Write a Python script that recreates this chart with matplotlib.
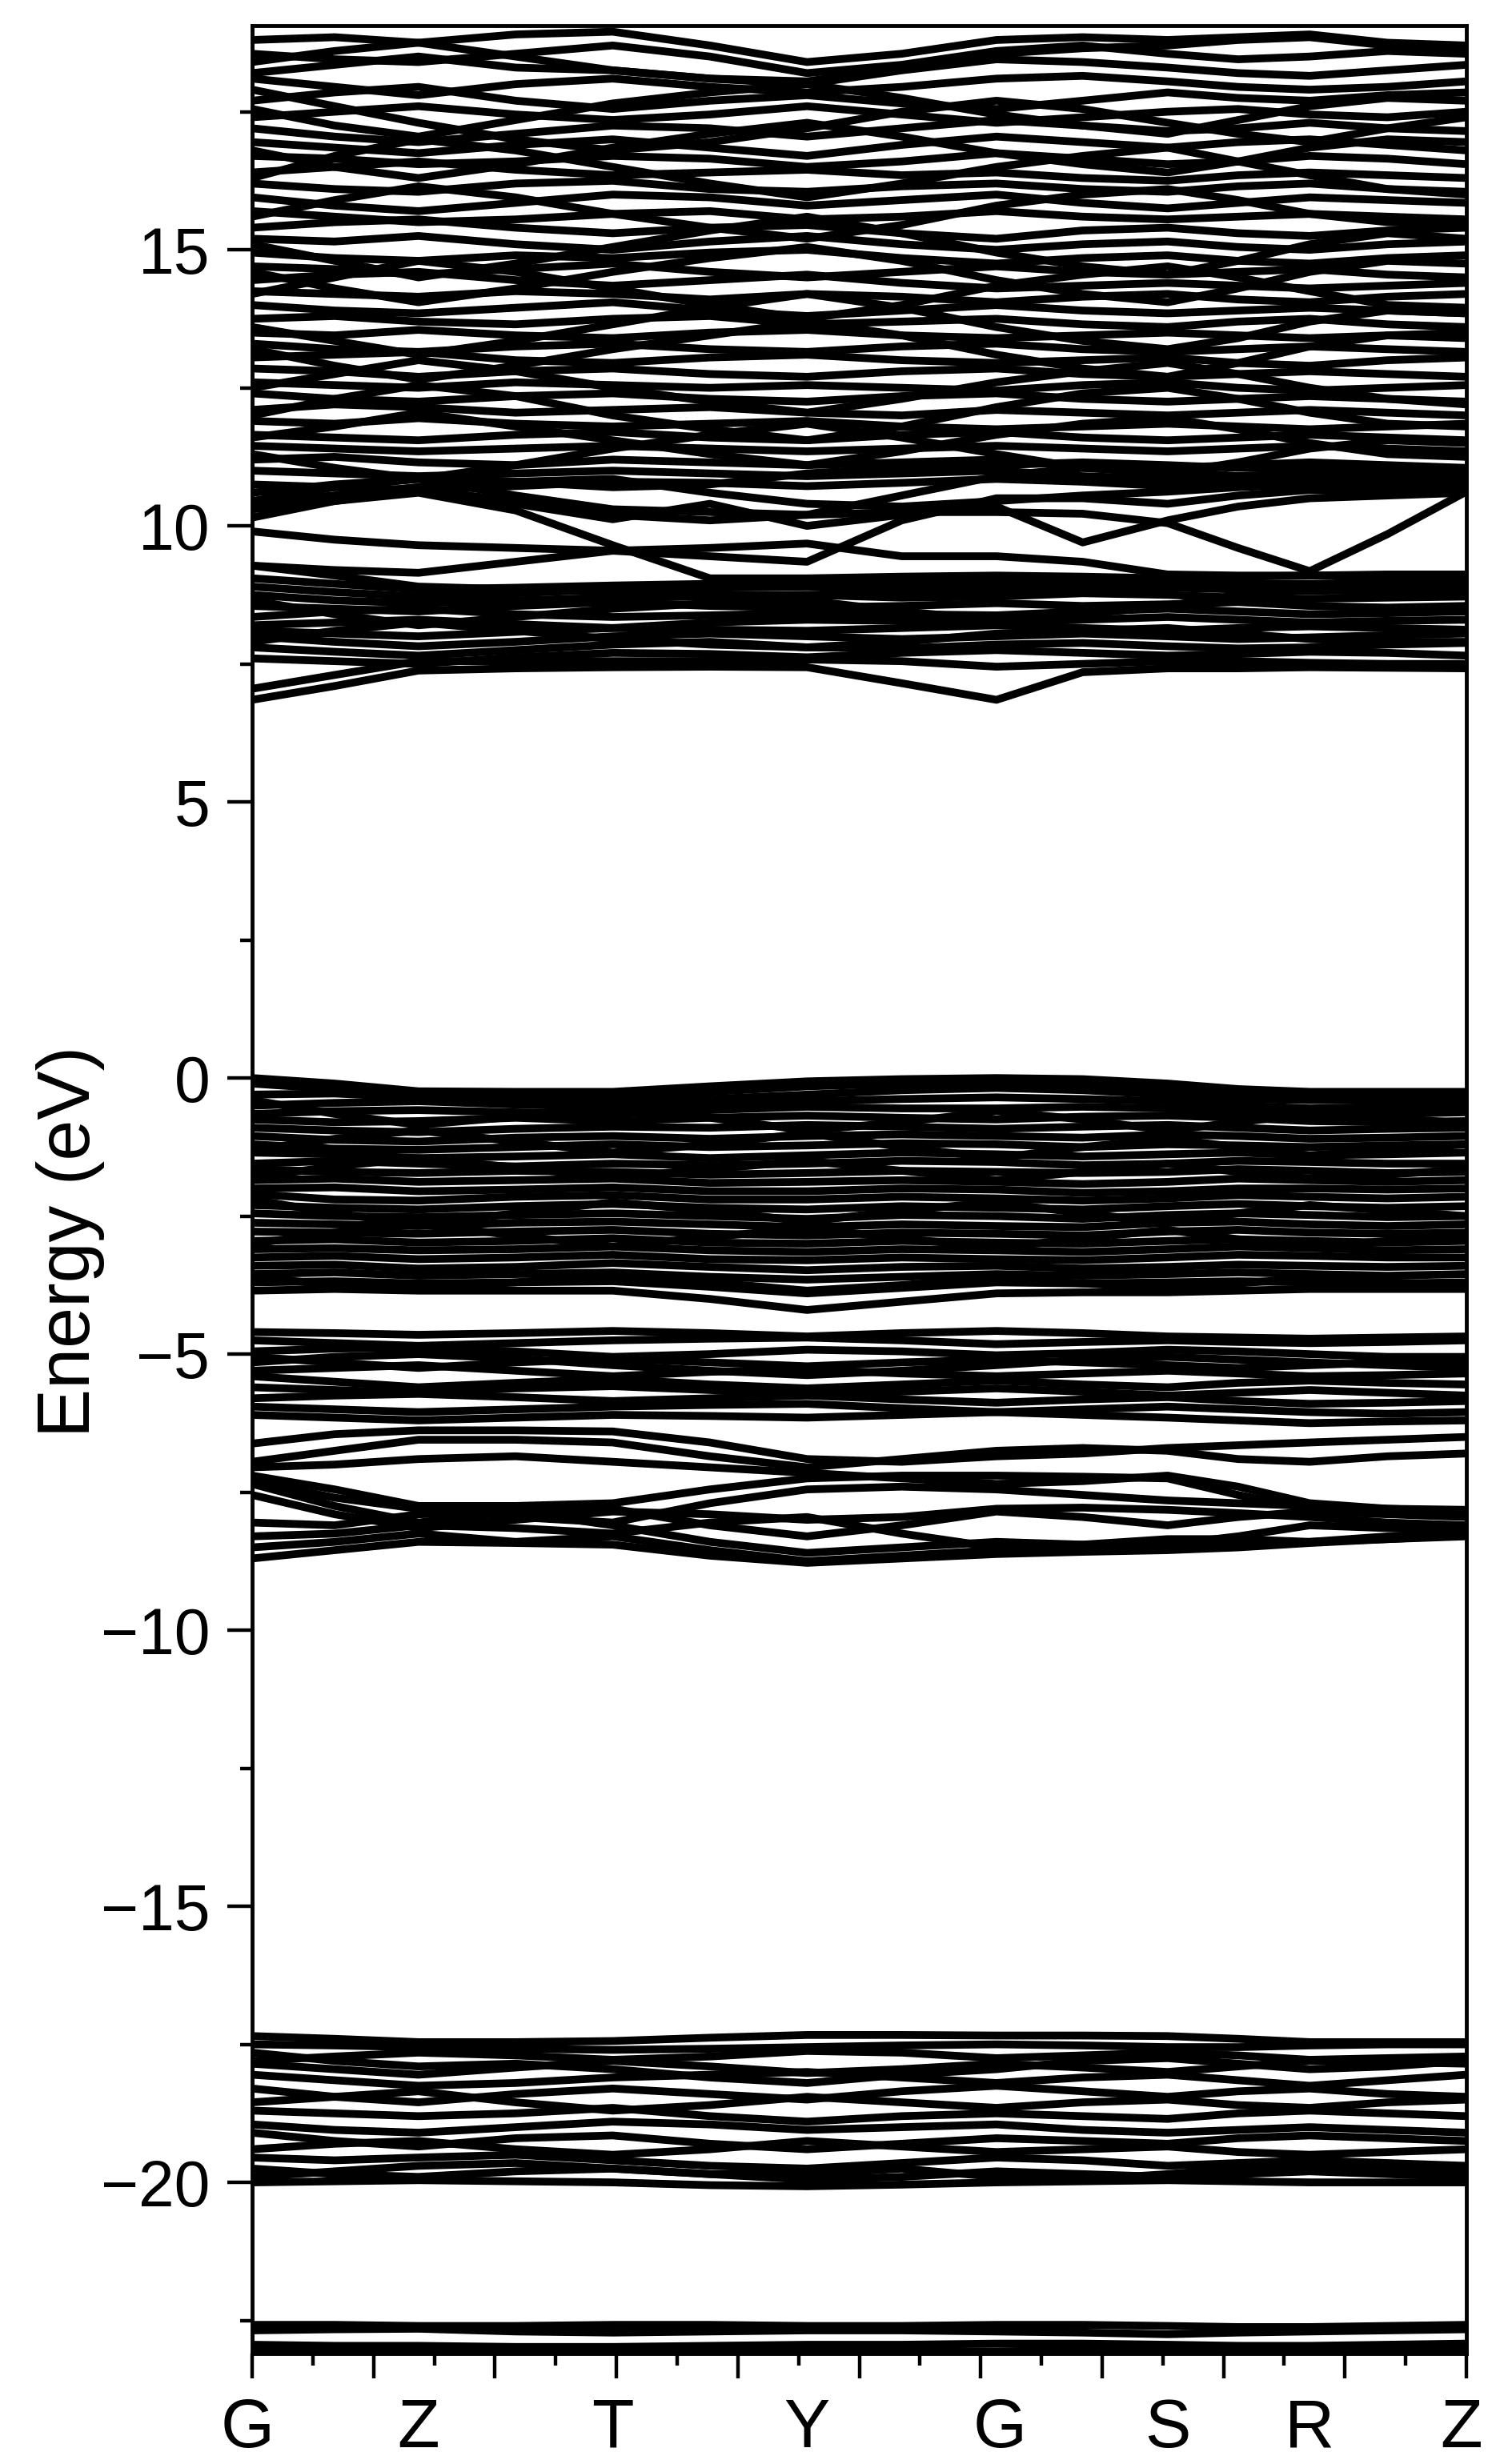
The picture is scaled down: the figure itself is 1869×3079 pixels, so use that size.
import matplotlib.pyplot as plt
from matplotlib.ticker import MultipleLocator
from matplotlib.transforms import blended_transform_factory

plt.rcParams['font.family'] = ['Liberation Sans', 'DejaVu Sans']

# k-path positions (arbitrary units along the path, 0..10)
K = [0.0, 0.68, 1.37, 2.17, 2.97, 3.77, 4.57, 5.35, 6.13, 6.84, 7.54, 8.12, 8.71, 9.35, 10.0]

# high symmetry labels written under the axis
POINT_NAMES = ['G', 'Z', 'T', 'Y', 'G', 'S', 'R', 'Z']
POINT_POS = [-0.04, 1.37, 2.97, 4.57, 6.16, 7.54, 8.71, 9.96]

# deep core levels (~ -22.6 .. -23)
core_bands = [
    [-22.58, -22.58, -22.60, -22.60, -22.58, -22.58, -22.60, -22.60, -22.58, -22.58, -22.60, -22.62, -22.62, -22.60, -22.58],
    [-22.68, -22.66, -22.65, -22.70, -22.72, -22.70, -22.68, -22.68, -22.70, -22.72, -22.75, -22.72, -22.70, -22.68, -22.66],
    [-22.94, -22.96, -22.96, -22.98, -22.98, -22.96, -22.94, -22.94, -22.92, -22.92, -22.94, -22.96, -22.96, -22.94, -22.92],
    [-23.04, -23.04, -23.06, -23.06, -23.04, -23.04, -23.04, -23.06, -23.06, -23.04, -23.02, -23.02, -23.04, -23.04, -23.04],
]

# semi-core group (-17.3 .. -20)
semicore_bands = [
    [-17.35, -17.40, -17.46, -17.46, -17.44, -17.38, -17.33, -17.33, -17.34, -17.34, -17.35, -17.40, -17.46, -17.46, -17.46],
    [-17.50, -17.52, -17.55, -17.58, -17.60, -17.58, -17.55, -17.52, -17.50, -17.52, -17.55, -17.55, -17.52, -17.50, -17.50],
    [-17.80, -17.72, -17.65, -17.70, -17.78, -17.72, -17.62, -17.65, -17.75, -17.70, -17.65, -17.70, -17.78, -17.75, -17.72],
    [-17.85, -17.95, -18.05, -17.92, -17.80, -17.90, -18.02, -17.95, -17.85, -17.92, -18.00, -17.90, -17.80, -17.82, -17.85],
    [-18.05, -18.15, -18.25, -18.20, -18.10, -18.05, -18.00, -18.10, -18.20, -18.10, -18.05, -18.15, -18.25, -18.15, -18.05],
    [-18.30, -18.45, -18.55, -18.40, -18.30, -18.40, -18.50, -18.35, -18.25, -18.35, -18.45, -18.35, -18.30, -18.40, -18.45],
    [-18.55, -18.45, -18.35, -18.55, -18.70, -18.60, -18.45, -18.55, -18.65, -18.55, -18.50, -18.60, -18.65, -18.55, -18.50],
    [-18.70, -18.75, -18.80, -18.75, -18.65, -18.80, -18.90, -18.80, -18.75, -18.80, -18.85, -18.75, -18.70, -18.75, -18.80],
    [-18.95, -19.05, -19.10, -19.00, -18.90, -18.95, -19.05, -19.00, -18.95, -19.05, -19.10, -19.05, -19.00, -19.05, -19.10],
    [-19.10, -19.25, -19.35, -19.20, -19.15, -19.30, -19.40, -19.30, -19.20, -19.25, -19.30, -19.20, -19.15, -19.20, -19.25],
    [-19.40, -19.30, -19.25, -19.40, -19.50, -19.40, -19.25, -19.35, -19.45, -19.40, -19.35, -19.45, -19.50, -19.45, -19.40],
    [-19.55, -19.60, -19.55, -19.50, -19.60, -19.70, -19.75, -19.65, -19.55, -19.60, -19.70, -19.65, -19.60, -19.65, -19.70],
    [-19.75, -19.85, -19.90, -19.80, -19.75, -19.85, -19.95, -19.90, -19.80, -19.85, -19.90, -19.85, -19.80, -19.85, -19.90],
    [-20.00, -19.98, -19.96, -19.98, -20.00, -20.05, -20.07, -20.04, -20.00, -19.98, -19.96, -19.98, -20.00, -20.00, -20.00],
    [-17.65, -17.80, -17.90, -17.85, -17.95, -18.10, -18.20, -18.05, -17.95, -17.80, -17.75, -17.85, -17.95, -17.90, -17.80],
    [-19.90, -19.80, -19.70, -19.65, -19.75, -19.85, -19.85, -19.75, -19.90, -19.95, -19.85, -19.75, -19.70, -19.75, -19.80],
]

# lower valence group (-4.6 .. -8.8)
lower_valence_bands = [
    [-4.60, -4.62, -4.65, -4.62, -4.58, -4.62, -4.68, -4.62, -4.58, -4.62, -4.68, -4.70, -4.72, -4.70, -4.68],
    [-4.75, -4.80, -4.85, -4.80, -4.75, -4.72, -4.70, -4.75, -4.82, -4.78, -4.75, -4.78, -4.80, -4.78, -4.75],
    [-4.95, -4.90, -4.88, -4.95, -5.05, -5.00, -4.92, -4.95, -5.02, -4.98, -4.92, -4.95, -5.00, -5.05, -5.05],
    [-5.05, -5.15, -5.25, -5.15, -5.08, -5.15, -5.22, -5.15, -5.10, -5.15, -5.20, -5.25, -5.20, -5.15, -5.12],
    [-5.30, -5.25, -5.20, -5.30, -5.40, -5.32, -5.28, -5.35, -5.40, -5.35, -5.30, -5.35, -5.40, -5.38, -5.35],
    [-5.40, -5.50, -5.60, -5.52, -5.45, -5.55, -5.62, -5.55, -5.48, -5.55, -5.60, -5.52, -5.48, -5.52, -5.55],
    [-5.60, -5.65, -5.70, -5.62, -5.58, -5.65, -5.72, -5.68, -5.62, -5.68, -5.75, -5.70, -5.65, -5.70, -5.75],
    [-5.80, -5.75, -5.72, -5.78, -5.85, -5.80, -5.75, -5.82, -5.88, -5.82, -5.78, -5.85, -5.90, -5.88, -5.85],
    [-5.95, -6.00, -6.05, -6.00, -5.95, -5.92, -5.90, -5.98, -6.05, -6.00, -5.95, -6.00, -6.05, -6.08, -6.05],
    [-6.10, -6.15, -6.20, -6.15, -6.10, -6.12, -6.15, -6.10, -6.05, -6.10, -6.15, -6.20, -6.25, -6.22, -6.20],
    [-5.15, -5.05, -5.00, -5.08, -5.20, -5.30, -5.38, -5.30, -5.20, -5.10, -5.05, -5.10, -5.15, -5.20, -5.25],
    [-6.62, -6.45, -6.38, -6.38, -6.40, -6.60, -6.90, -6.95, -6.85, -6.80, -6.70, -6.65, -6.60, -6.55, -6.50],
    [-6.95, -6.75, -6.55, -6.55, -6.60, -6.85, -7.05, -6.90, -6.75, -6.70, -6.75, -6.90, -6.95, -6.85, -6.80],
    [-7.05, -7.00, -6.90, -6.85, -6.95, -7.05, -7.15, -7.25, -7.35, -7.30, -7.20, -7.40, -7.70, -7.80, -7.85],
    [-7.20, -7.45, -7.75, -7.75, -7.70, -7.45, -7.25, -7.20, -7.20, -7.22, -7.25, -7.55, -7.80, -7.85, -7.85],
    [-7.35, -7.75, -8.05, -7.85, -7.80, -8.10, -8.30, -8.10, -7.85, -7.95, -8.10, -7.95, -7.85, -7.90, -7.95],
    [-7.55, -7.90, -8.15, -8.00, -7.85, -7.90, -8.00, -7.95, -7.80, -7.78, -7.82, -7.88, -7.95, -8.05, -8.10],
    [-8.05, -8.10, -7.90, -7.85, -8.10, -8.40, -8.60, -8.50, -8.40, -8.45, -8.45, -8.30, -8.10, -8.15, -8.20],
    [-8.30, -8.25, -8.10, -8.15, -8.25, -8.05, -7.95, -8.25, -8.50, -8.45, -8.35, -8.35, -8.40, -8.30, -8.25],
    [-8.50, -8.40, -8.25, -8.40, -8.30, -8.55, -8.75, -8.65, -8.55, -8.50, -8.50, -8.45, -8.40, -8.35, -8.30],
    [-8.70, -8.55, -8.40, -8.42, -8.45, -8.65, -8.78, -8.70, -8.62, -8.58, -8.55, -8.50, -8.42, -8.35, -8.28],
    [-7.30, -7.60, -7.80, -7.95, -8.05, -7.70, -7.45, -7.40, -7.45, -7.55, -7.65, -7.70, -7.75, -7.80, -7.82],
]

# upper valence group (0 .. -4.2)
valence_bands = [
    [0.00, -0.10, -0.24, -0.25, -0.25, -0.15, -0.06, -0.02, 0.00, -0.02, -0.10, -0.20, -0.25, -0.25, -0.25],
    [-0.10, -0.20, -0.30, -0.32, -0.33, -0.25, -0.15, -0.10, -0.08, -0.10, -0.18, -0.28, -0.32, -0.33, -0.33],
    [-0.30, -0.28, -0.35, -0.40, -0.42, -0.38, -0.30, -0.22, -0.18, -0.22, -0.30, -0.38, -0.40, -0.40, -0.42],
    [-0.50, -0.45, -0.42, -0.48, -0.52, -0.48, -0.42, -0.38, -0.35, -0.38, -0.42, -0.50, -0.55, -0.52, -0.50],
    [-0.65, -0.60, -0.58, -0.62, -0.65, -0.58, -0.52, -0.55, -0.55, -0.52, -0.55, -0.62, -0.68, -0.65, -0.62],
    [-0.75, -0.80, -0.78, -0.72, -0.78, -0.72, -0.68, -0.72, -0.75, -0.70, -0.68, -0.72, -0.78, -0.80, -0.78],
    [-0.90, -0.95, -0.98, -0.92, -0.88, -0.90, -0.85, -0.88, -0.92, -0.88, -0.85, -0.90, -0.95, -0.92, -0.90],
    [-1.05, -1.12, -1.15, -1.08, -1.05, -1.10, -1.05, -1.02, -1.05, -1.08, -1.02, -1.05, -1.10, -1.08, -1.05],
    [-1.20, -1.28, -1.30, -1.25, -1.20, -1.25, -1.22, -1.18, -1.20, -1.25, -1.20, -1.22, -1.25, -1.22, -1.20],
    [-1.35, -1.38, -1.45, -1.42, -1.38, -1.45, -1.40, -1.35, -1.38, -1.42, -1.38, -1.35, -1.40, -1.38, -1.35],
    [-1.55, -1.50, -1.55, -1.60, -1.55, -1.58, -1.55, -1.50, -1.52, -1.58, -1.55, -1.50, -1.52, -1.55, -1.55],
    [-1.65, -1.70, -1.72, -1.68, -1.70, -1.75, -1.72, -1.68, -1.70, -1.72, -1.70, -1.65, -1.68, -1.72, -1.70],
    [-1.85, -1.82, -1.88, -1.85, -1.82, -1.90, -1.88, -1.85, -1.88, -1.92, -1.88, -1.82, -1.85, -1.88, -1.85],
    [-2.00, -1.98, -2.05, -2.02, -1.98, -2.05, -2.05, -2.00, -2.02, -2.08, -2.05, -2.00, -2.00, -2.02, -2.00],
    [-2.10, -2.20, -2.22, -2.15, -2.12, -2.20, -2.20, -2.15, -2.18, -2.22, -2.18, -2.12, -2.15, -2.18, -2.15],
    [-2.30, -2.35, -2.38, -2.32, -2.28, -2.35, -2.38, -2.32, -2.35, -2.38, -2.32, -2.28, -2.32, -2.35, -2.32],
    [-2.45, -2.50, -2.52, -2.48, -2.45, -2.50, -2.55, -2.48, -2.50, -2.55, -2.48, -2.45, -2.48, -2.52, -2.50],
    [-2.62, -2.65, -2.68, -2.62, -2.60, -2.65, -2.70, -2.65, -2.68, -2.70, -2.62, -2.60, -2.65, -2.68, -2.65],
    [-2.78, -2.80, -2.82, -2.78, -2.75, -2.82, -2.85, -2.80, -2.82, -2.85, -2.78, -2.75, -2.80, -2.82, -2.80],
    [-2.95, -2.92, -2.98, -2.95, -2.90, -2.98, -3.00, -2.95, -2.98, -3.00, -2.95, -2.92, -2.95, -2.98, -2.95],
    [-3.10, -3.08, -3.12, -3.10, -3.05, -3.12, -3.15, -3.10, -3.12, -3.15, -3.10, -3.05, -3.08, -3.12, -3.10],
    [-3.25, -3.22, -3.28, -3.25, -3.20, -3.28, -3.30, -3.25, -3.28, -3.30, -3.25, -3.20, -3.22, -3.25, -3.25],
    [-3.40, -3.38, -3.45, -3.42, -3.35, -3.42, -3.48, -3.42, -3.40, -3.45, -3.42, -3.38, -3.40, -3.42, -3.40],
    [-3.55, -3.52, -3.58, -3.55, -3.52, -3.60, -3.65, -3.60, -3.55, -3.58, -3.55, -3.52, -3.55, -3.58, -3.55],
    [-3.70, -3.68, -3.72, -3.70, -3.68, -3.78, -3.90, -3.80, -3.70, -3.72, -3.70, -3.68, -3.70, -3.72, -3.70],
    [-3.85, -3.82, -3.85, -3.85, -3.85, -4.00, -4.20, -4.05, -3.90, -3.88, -3.88, -3.85, -3.82, -3.82, -3.82],
    [-0.40, -0.65, -0.85, -0.70, -0.55, -0.72, -0.95, -0.80, -0.60, -0.75, -0.95, -0.80, -0.65, -0.72, -0.82],
    [-1.30, -1.10, -0.95, -1.15, -1.35, -1.20, -1.00, -1.25, -1.45, -1.25, -1.10, -1.25, -1.40, -1.30, -1.20],
    [-2.20, -2.45, -2.65, -2.45, -2.25, -2.40, -2.60, -2.40, -2.25, -2.45, -2.62, -2.45, -2.30, -2.40, -2.50],
    [-3.00, -2.80, -2.65, -2.85, -3.05, -2.88, -2.72, -2.90, -3.08, -2.90, -2.75, -2.92, -3.05, -2.95, -2.85],
    [-3.60, -3.75, -3.80, -3.70, -3.55, -3.70, -3.85, -3.75, -3.62, -3.72, -3.80, -3.72, -3.62, -3.70, -3.75],
    [-1.80, -1.60, -1.45, -1.62, -1.80, -1.65, -1.50, -1.68, -1.85, -1.70, -1.55, -1.70, -1.82, -1.75, -1.65],
]

# lower conduction group (6.8 .. 9.3)
cond_low_bands = [
    [6.85, 7.10, 7.38, 7.42, 7.44, 7.45, 7.44, 7.15, 6.85, 7.35, 7.42, 7.42, 7.44, 7.43, 7.42],
    [7.05, 7.30, 7.55, 7.55, 7.55, 7.55, 7.58, 7.55, 7.45, 7.50, 7.55, 7.55, 7.52, 7.50, 7.50],
    [7.60, 7.55, 7.50, 7.62, 7.70, 7.68, 7.62, 7.70, 7.75, 7.70, 7.65, 7.68, 7.72, 7.70, 7.65],
    [7.80, 7.72, 7.65, 7.75, 7.85, 7.90, 7.80, 7.78, 7.85, 7.88, 7.82, 7.78, 7.80, 7.85, 7.88],
    [8.00, 7.90, 7.82, 7.90, 8.00, 8.05, 8.00, 7.95, 8.00, 8.05, 8.00, 7.95, 7.98, 8.02, 8.05],
    [8.10, 8.05, 8.00, 8.08, 8.15, 8.12, 8.10, 8.15, 8.20, 8.15, 8.10, 8.15, 8.18, 8.15, 8.12],
    [8.20, 8.25, 8.30, 8.22, 8.15, 8.25, 8.30, 8.28, 8.25, 8.30, 8.35, 8.30, 8.25, 8.28, 8.30],
    [8.35, 8.45, 8.50, 8.40, 8.35, 8.38, 8.42, 8.40, 8.38, 8.45, 8.50, 8.45, 8.40, 8.42, 8.45],
    [8.55, 8.50, 8.45, 8.55, 8.62, 8.55, 8.52, 8.55, 8.60, 8.55, 8.58, 8.62, 8.55, 8.52, 8.55],
    [8.75, 8.65, 8.60, 8.65, 8.70, 8.72, 8.75, 8.70, 8.72, 8.78, 8.75, 8.70, 8.68, 8.70, 8.72],
    [8.90, 8.80, 8.72, 8.78, 8.85, 8.88, 8.90, 8.88, 8.85, 8.90, 8.88, 8.85, 8.82, 8.85, 8.88],
    [9.05, 8.95, 8.85, 8.88, 8.92, 8.95, 8.98, 8.95, 8.98, 9.00, 8.98, 8.95, 8.95, 8.98, 9.00],
    [8.65, 8.40, 8.20, 8.35, 8.50, 8.60, 8.65, 8.45, 8.30, 8.40, 8.55, 8.75, 8.85, 8.80, 8.75],
    [7.90, 8.10, 8.25, 8.10, 7.95, 7.85, 7.80, 7.90, 8.05, 8.10, 8.15, 8.05, 7.95, 7.90, 7.90],
    [9.28, 9.10, 8.90, 8.85, 8.80, 8.75, 8.75, 8.80, 8.85, 8.90, 8.92, 8.88, 8.85, 8.80, 8.78],
]

# upper conduction bands (9 .. 19)
cond_high_bands = [
    [18.80, 18.85, 18.75, 18.90, 18.95, 18.70, 18.40, 18.55, 18.80, 18.85, 18.80, 18.85, 18.90, 18.75, 18.70],
    [18.55, 18.45, 18.40, 18.55, 18.70, 18.50, 18.20, 18.35, 18.60, 18.70, 18.55, 18.45, 18.50, 18.60, 18.55],
    [18.20, 18.35, 18.50, 18.30, 18.25, 18.10, 18.00, 18.25, 18.45, 18.40, 18.30, 18.20, 18.15, 18.25, 18.35],
    [18.10, 17.95, 17.80, 18.00, 18.10, 17.95, 17.85, 17.95, 18.10, 18.15, 18.05, 17.95, 17.90, 17.95, 18.05],
    [17.70, 17.85, 17.95, 17.70, 17.55, 17.70, 17.80, 17.65, 17.55, 17.70, 17.85, 17.75, 17.70, 17.80, 17.85],
    [17.40, 17.50, 17.60, 17.45, 17.35, 17.45, 17.60, 17.45, 17.30, 17.40, 17.50, 17.55, 17.45, 17.40, 17.50],
    [17.20, 17.05, 16.95, 17.10, 17.25, 17.20, 17.05, 17.20, 17.35, 17.25, 17.15, 17.20, 17.30, 17.20, 17.15],
    [16.95, 16.85, 16.75, 16.90, 17.00, 16.85, 16.70, 16.90, 17.05, 16.95, 16.85, 16.95, 17.00, 16.90, 16.80],
    [16.70, 16.65, 16.55, 16.60, 16.70, 16.65, 16.50, 16.60, 16.75, 16.65, 16.55, 16.60, 16.70, 16.65, 16.55],
    [16.40, 16.50, 16.60, 16.45, 16.35, 16.40, 16.45, 16.35, 16.40, 16.30, 16.25, 16.35, 16.40, 16.35, 16.30],
    [16.20, 16.10, 16.05, 16.20, 16.25, 16.10, 16.05, 16.15, 16.20, 16.10, 16.05, 16.15, 16.20, 16.10, 16.05],
    [15.95, 15.80, 15.70, 15.85, 16.00, 15.95, 15.80, 15.90, 16.00, 15.85, 15.75, 15.85, 15.95, 15.90, 15.85],
    [15.70, 15.60, 15.50, 15.55, 15.65, 15.70, 15.55, 15.60, 15.70, 15.60, 15.55, 15.60, 15.65, 15.60, 15.55],
    [15.40, 15.50, 15.55, 15.40, 15.30, 15.40, 15.45, 15.30, 15.20, 15.35, 15.40, 15.30, 15.25, 15.35, 15.40],
    [15.20, 15.15, 15.25, 15.10, 15.00, 15.15, 15.25, 15.10, 15.00, 15.10, 15.15, 15.05, 15.00, 15.10, 15.15],
    [14.95, 14.85, 14.80, 14.90, 14.85, 14.95, 15.00, 14.85, 14.75, 14.85, 14.90, 14.80, 14.75, 14.85, 14.90],
    [14.70, 14.65, 14.55, 14.65, 14.75, 14.60, 14.50, 14.60, 14.70, 14.60, 14.55, 14.60, 14.65, 14.55, 14.50],
    [14.45, 14.55, 14.60, 14.45, 14.35, 14.45, 14.55, 14.40, 14.30, 14.35, 14.40, 14.35, 14.30, 14.35, 14.40],
    [14.25, 14.20, 14.15, 14.25, 14.20, 14.10, 14.20, 14.15, 14.05, 14.15, 14.20, 14.10, 14.05, 14.15, 14.20],
    [14.00, 13.90, 13.85, 13.95, 14.05, 13.90, 13.80, 13.90, 14.00, 13.90, 13.85, 13.90, 13.95, 13.90, 13.85],
    [13.75, 13.80, 13.70, 13.65, 13.75, 13.80, 13.65, 13.70, 13.75, 13.65, 13.60, 13.70, 13.75, 13.65, 13.60],
    [13.50, 13.45, 13.55, 13.45, 13.40, 13.50, 13.55, 13.45, 13.40, 13.45, 13.50, 13.45, 13.40, 13.45, 13.50],
    [13.30, 13.20, 13.15, 13.25, 13.30, 13.20, 13.15, 13.25, 13.30, 13.20, 13.15, 13.20, 13.25, 13.20, 13.15],
    [13.05, 13.10, 13.15, 13.00, 12.95, 13.05, 13.10, 13.00, 12.95, 13.00, 13.05, 12.95, 12.90, 13.00, 13.05],
    [12.85, 12.80, 12.70, 12.80, 12.85, 12.75, 12.70, 12.80, 12.85, 12.75, 12.70, 12.75, 12.80, 12.75, 12.70],
    [12.60, 12.55, 12.50, 12.60, 12.55, 12.50, 12.55, 12.50, 12.45, 12.55, 12.60, 12.50, 12.45, 12.50, 12.55],
    [12.40, 12.30, 12.25, 12.35, 12.40, 12.30, 12.25, 12.35, 12.40, 12.30, 12.25, 12.30, 12.35, 12.30, 12.25],
    [12.10, 12.20, 12.15, 12.05, 12.10, 12.15, 12.05, 12.00, 12.10, 12.05, 12.00, 12.05, 12.10, 12.05, 12.00],
    [11.90, 11.85, 11.95, 11.85, 11.80, 11.85, 11.90, 11.80, 11.75, 11.80, 11.85, 11.80, 11.75, 11.80, 11.85],
    [11.65, 11.60, 11.55, 11.65, 11.70, 11.60, 11.55, 11.65, 11.70, 11.60, 11.55, 11.60, 11.65, 11.60, 11.55],
    [11.45, 11.40, 11.35, 11.40, 11.45, 11.40, 11.35, 11.40, 11.45, 11.40, 11.35, 11.40, 11.45, 11.40, 11.35],
    [11.20, 11.25, 11.15, 11.10, 11.20, 11.15, 11.10, 11.15, 11.20, 11.10, 11.05, 11.10, 11.15, 11.10, 11.05],
    [11.00, 10.95, 10.90, 10.95, 11.00, 10.95, 10.90, 10.95, 11.00, 10.90, 10.85, 10.90, 10.95, 10.90, 10.85],
    [10.75, 10.70, 10.65, 10.72, 10.80, 10.78, 10.72, 10.78, 10.85, 10.80, 10.72, 10.78, 10.85, 10.82, 10.80],
    [10.40, 10.55, 10.70, 10.80, 10.85, 10.60, 10.40, 10.35, 10.45, 10.55, 10.62, 10.70, 10.75, 10.72, 10.70],
    [17.90, 17.60, 17.30, 17.00, 16.80, 16.95, 17.20, 17.50, 17.70, 17.55, 17.30, 17.10, 16.95, 17.20, 17.40],
    [16.30, 16.70, 17.00, 16.80, 16.50, 16.20, 15.95, 16.20, 16.50, 16.70, 16.85, 16.60, 16.35, 16.10, 16.00],
    [15.10, 14.80, 14.50, 14.75, 15.05, 15.35, 15.60, 15.30, 14.95, 14.70, 14.55, 14.80, 15.10, 15.30, 15.20],
    [14.20, 14.50, 14.80, 14.60, 14.30, 14.00, 13.75, 14.00, 14.35, 14.55, 14.70, 14.50, 14.25, 14.00, 13.95],
    [13.20, 12.90, 12.65, 12.90, 13.20, 13.45, 13.70, 13.45, 13.10, 12.85, 12.70, 12.95, 13.25, 13.45, 13.40],
    [12.50, 12.75, 13.00, 12.80, 12.50, 12.25, 12.05, 12.30, 12.60, 12.80, 12.95, 12.75, 12.50, 12.30, 12.20],
    [11.60, 11.80, 12.05, 11.80, 11.55, 11.30, 11.10, 11.35, 11.65, 11.85, 11.95, 11.75, 11.50, 11.30, 11.25],
    [10.30, 10.45, 10.65, 10.45, 10.20, 10.10, 10.20, 10.55, 10.90, 11.05, 11.00, 10.90, 10.95, 10.90, 10.85],
    [18.40, 18.60, 18.75, 18.50, 18.25, 18.10, 18.05, 18.30, 18.55, 18.65, 18.70, 18.80, 18.85, 18.70, 18.60],
    [16.80, 16.50, 16.30, 16.55, 16.85, 17.10, 17.30, 17.05, 16.75, 16.55, 16.40, 16.60, 16.85, 17.00, 16.95],
    [15.60, 15.90, 16.15, 15.95, 15.65, 15.40, 15.20, 15.45, 15.80, 16.00, 16.10, 15.90, 15.65, 15.50, 15.45],
    [13.60, 13.35, 13.10, 13.35, 13.65, 13.95, 14.20, 13.95, 13.60, 13.35, 13.20, 13.40, 13.70, 13.90, 13.85],
    [12.00, 12.30, 12.55, 12.35, 12.00, 11.75, 11.55, 11.80, 12.15, 12.40, 12.50, 12.30, 12.05, 11.85, 11.80],
    [17.55, 17.25, 17.05, 17.35, 17.65, 17.85, 18.00, 17.75, 17.45, 17.25, 17.10, 17.35, 17.60, 17.75, 17.70],
    [14.60, 14.30, 14.05, 14.30, 14.60, 14.85, 15.05, 14.80, 14.45, 14.20, 14.05, 14.30, 14.60, 14.80, 14.75],
    [11.30, 11.05, 10.85, 11.10, 11.40, 11.65, 11.85, 11.60, 11.30, 11.05, 10.95, 11.15, 11.40, 11.55, 11.50],
    # distinct bands between 9 and 11 eV
    [10.15, 10.45, 10.60, 10.28, 9.65, 9.05, 9.05, 9.08, 9.10, 9.08, 9.05, 9.08, 9.10, 9.10, 9.10],
    [9.28, 9.20, 9.15, 9.35, 9.55, 9.45, 9.35, 10.10, 10.50, 10.50, 10.40, 10.55, 10.65, 10.62, 10.60],
    [10.60, 10.75, 10.85, 10.55, 10.30, 10.25, 10.20, 10.25, 10.25, 10.22, 10.05, 9.60, 9.18, 9.85, 10.62],
    [9.90, 9.75, 9.65, 9.60, 9.55, 9.60, 9.68, 9.45, 9.45, 9.35, 9.12, 9.10, 9.10, 9.12, 9.12],
    [10.45, 10.70, 10.85, 10.80, 10.70, 10.75, 10.95, 11.05, 11.10, 11.15, 11.10, 11.05, 11.05, 11.00, 10.95],
    [10.40, 10.55, 10.70, 10.40, 10.12, 10.40, 10.00, 10.20, 10.35, 9.70, 10.10, 10.35, 10.50, 10.55, 10.60],
]

fig = plt.figure(figsize=(18.69, 30.79), dpi=100)
ax = fig.add_axes([315 / 1869, 1 - 2941 / 3079, (1832 - 315) / 1869, (2941 - 32) / 3079])

for group in (core_bands, semicore_bands, lower_valence_bands, valence_bands,
              cond_low_bands, cond_high_bands):
    for band in group:
        ax.plot(K, band, color='black', lw=7, solid_joinstyle='round',
                solid_capstyle='butt')

ax.set_xlim(0, 10)
ax.set_ylim(-23.1, 19.06)

ax.xaxis.set_major_locator(MultipleLocator(1))
ax.xaxis.set_minor_locator(MultipleLocator(0.5))
ax.yaxis.set_major_locator(MultipleLocator(5))
ax.yaxis.set_minor_locator(MultipleLocator(2.5))
ax.tick_params(axis='both', which='major', direction='out', length=22, width=3.2,
               labelsize=58, pad=16)
ax.tick_params(axis='both', which='minor', direction='out', length=11, width=3.2)
ax.tick_params(axis='x', which='both', labelbottom=False)
for sp in ax.spines.values():
    sp.set_linewidth(3.5)

trans = blended_transform_factory(ax.transData, ax.transAxes)
for name, pos in zip(POINT_NAMES, POINT_POS):
    ax.text(pos, -0.0402, name, transform=trans, ha='center', va='baseline',
            fontsize=62)

fig.text(112 / 1869, 1 - 1551 / 3079, 'Energy (eV)', rotation=90,
         rotation_mode='anchor', ha='center', va='baseline', fontsize=66)

fig.savefig('out.png', dpi=100)
